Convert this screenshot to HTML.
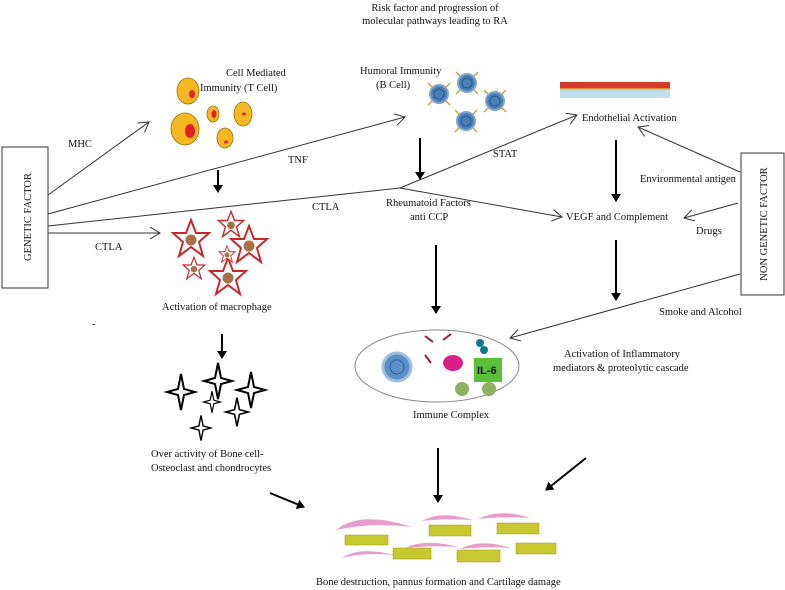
<!DOCTYPE html>
<html><head><meta charset="utf-8"><style>
body{margin:0;background:#fff}
svg{display:block}
text{font-family:"Liberation Serif",serif;font-size:10.5px;fill:#111}
</style></head><body>
<svg width="785" height="590" viewBox="0 0 785 590" xmlns="http://www.w3.org/2000/svg">
<defs>
<marker id="o" markerWidth="12" markerHeight="12" refX="10" refY="6" orient="auto" markerUnits="userSpaceOnUse"><path d="M0,0 L10,6 L0,12" fill="none" stroke="#333" stroke-width="1"/></marker>
<marker id="f" markerWidth="8" markerHeight="10" refX="7" refY="5" orient="auto" markerUnits="userSpaceOnUse"><path d="M0,0 L8,5 L0,10 Z" fill="#000"/></marker>
<g id="star"><path d="M0,-18 L5,-5 L18,-5 L8,4 L12,18 L0,9 L-12,18 L-8,4 L-18,-5 L-5,-5 Z" fill="#fff" stroke="#c8282c" stroke-width="2"/><circle cx="0" cy="2" r="5.5" fill="#a8704a"/></g>
<g id="bc"><circle r="9" fill="#4a7fb8" stroke="#7ea6cf" stroke-width="2"/><circle r="5" fill="none" stroke="#2c5a8c"/><path d="M7,-7 l4,-4 M-7,7 l-4,4 M7,7 l4,4 M-7,-7 l-4,-4" stroke="#d0a030" stroke-width="1.5"/></g>
<g id="bs"><path d="M0,-18 L3,-3 L14,0 L3,3 L0,18 L-3,3 L-14,0 L-3,-3 Z" fill="#fff" stroke="#000" stroke-width="2"/></g>
</defs>
<text x="435" y="11" text-anchor="middle">Risk factor and progression of</text>
<text x="435" y="24" text-anchor="middle">molecular pathways leading to RA</text>

<rect x="2" y="147" width="46" height="141" fill="#fff" stroke="#333"/>
<text transform="translate(31,217) rotate(-90)" text-anchor="middle">GENETIC FACTOR</text>
<rect x="741" y="153" width="43" height="142" fill="#fff" stroke="#333"/>
<text transform="translate(767,224) rotate(-90)" text-anchor="middle">NON GENETIC FACTOR</text>

<g stroke="#333" stroke-width="1" fill="none">
<line x1="48" y1="195" x2="149" y2="122" marker-end="url(#o)"/>
<line x1="48" y1="214" x2="405" y2="117" marker-end="url(#o)"/>
<polyline points="48,226 400,188"/>
<line x1="400" y1="188" x2="577" y2="115" marker-end="url(#o)"/>
<line x1="400" y1="188" x2="562" y2="217" marker-end="url(#o)"/>
<line x1="48" y1="233" x2="160" y2="233" marker-end="url(#o)"/>
<line x1="740" y1="172" x2="638" y2="127" marker-end="url(#o)"/>
<line x1="738" y1="203" x2="684" y2="218" marker-end="url(#o)"/>
<line x1="740" y1="274" x2="510" y2="338" marker-end="url(#o)"/>
</g>
<g stroke="#000" stroke-width="2" fill="none">
<line x1="218" y1="170" x2="218" y2="192" marker-end="url(#f)"/>
<line x1="420" y1="138" x2="420" y2="179" marker-end="url(#f)"/>
<line x1="616" y1="140" x2="616" y2="201" marker-end="url(#f)"/>
<line x1="436" y1="245" x2="436" y2="313" marker-end="url(#f)"/>
<line x1="616" y1="240" x2="616" y2="300" marker-end="url(#f)"/>
<line x1="222" y1="334" x2="222" y2="358" marker-end="url(#f)"/>
<line x1="438" y1="448" x2="438" y2="502" marker-end="url(#f)"/>
<line x1="270" y1="493" x2="304" y2="507" marker-end="url(#f)"/>
<line x1="586" y1="458" x2="546" y2="490" marker-end="url(#f)"/>
</g>

<text x="68" y="147">MHC</text>
<text x="288" y="163">TNF</text>
<text x="312" y="210">CTLA</text>
<text x="95" y="250">CTLA</text>
<text x="493" y="157">STAT</text>
<text x="226" y="76">Cell Mediated</text>
<text x="200" y="91">Immunity (T Cell)</text>
<text x="360" y="74">Humoral Immunity</text>
<text x="376" y="88">(B Cell)</text>
<text x="582" y="121">Endothelial Activation</text>
<text x="386" y="206">Rheumatoid Factors</text>
<text x="410" y="220">anti CCP</text>
<text x="566" y="220">VEGF and Complement</text>
<text x="640" y="182">Environmental antigen</text>
<text x="696" y="234">Drugs</text>
<text x="659" y="315">Smoke and Alcohol</text>
<text x="162" y="310">Activation of macrophage</text>
<text x="92" y="327">-</text>
<text x="564" y="357">Activation of Inflammatory</text>
<text x="553" y="371">mediators &amp; proteolytic cascade</text>
<text x="413" y="418">Immune Complex</text>
<text x="151" y="457">Over activity of Bone cell-</text>
<text x="151" y="471">Osteoclast and chondrocytes</text>
<text x="316" y="585">Bone destruction, pannus formation and Cartilage damage</text>

<!-- T cells -->
<g fill="#f5b820" stroke="#a07010" stroke-width="0.8">
<ellipse cx="188" cy="91" rx="11" ry="13"/><ellipse cx="185" cy="129" rx="14" ry="16"/>
<ellipse cx="213" cy="114" rx="6" ry="8"/><ellipse cx="243" cy="114" rx="9" ry="12"/><ellipse cx="225" cy="138" rx="8" ry="10"/>
</g>
<g fill="#e0202a"><ellipse cx="192" cy="94" rx="3" ry="4"/><ellipse cx="190" cy="131" rx="5" ry="7"/><ellipse cx="214" cy="114" rx="2.5" ry="4"/><ellipse cx="244" cy="114" rx="2" ry="1.5"/><ellipse cx="226" cy="142" rx="2" ry="1.5"/></g>
<!-- B cells -->
<use href="#bc" x="439" y="94"/><use href="#bc" x="467" y="83"/><use href="#bc" x="495" y="101"/><use href="#bc" x="466" y="121"/>
<!-- endothelium -->
<rect x="560" y="82" width="110" height="8" fill="#d23a2a"/>
<rect x="560" y="89" width="110" height="9" fill="#bfe0ea"/>
<line x1="560" y1="89" x2="670" y2="89" stroke="#e0b040" stroke-width="1.5"/>
<!-- macrophage stars -->
<use href="#star" x="191" y="238"/><use href="#star" x="231" y="224" transform="translate(231,224) scale(0.7) translate(-231,-224)"/><use href="#star" x="249" y="244"/>
<use href="#star" x="194" y="268" transform="translate(194,268) scale(0.6) translate(-194,-268)"/>
<use href="#star" x="228" y="276"/><use href="#star" x="227" y="254" transform="translate(227,254) scale(0.45) translate(-227,-254)"/>
<!-- bone stars -->
<use href="#bs" x="181" y="392"/><use href="#bs" x="218" y="381"/><use href="#bs" x="251" y="390"/>
<use href="#bs" x="212" y="402" transform="translate(212,402) scale(0.6) translate(-212,-402)"/>
<use href="#bs" x="237" y="412" transform="translate(237,412) scale(0.8) translate(-237,-412)"/>
<use href="#bs" x="201" y="428" transform="translate(201,428) scale(0.7) translate(-201,-428)"/>
<!-- immune complex -->
<ellipse cx="437" cy="366" rx="82" ry="36" fill="#fff" stroke="#888"/>
<g transform="translate(397,367)"><circle r="14" fill="#5a8fc8" stroke="#9cc0e0" stroke-width="3"/><circle r="7" fill="none" stroke="#34609a"/></g>
<ellipse cx="453" cy="363" rx="10" ry="8" fill="#d8208a"/>
<rect x="474" y="358" width="28" height="24" fill="#5cbf3a"/>
<text x="477" y="374" style="font-family:'Liberation Sans',sans-serif;font-weight:bold;font-size:11px">IL-6</text>
<circle cx="462" cy="389" r="7" fill="#8fb060"/><circle cx="489" cy="389" r="7" fill="#8fb060"/>
<circle cx="480" cy="343" r="4" fill="#0a7a8a"/><circle cx="484" cy="350" r="4" fill="#0a7a8a"/>
<path d="M425,336 l8,6 M443,340 l8,-6 M425,355 l6,8" stroke="#a01830" stroke-width="2"/>
<!-- bone destruction -->
<g fill="#e79ccc"><path d="M336,530 Q360,510 412,527 Q370,522 336,530Z"/><path d="M422,521 Q440,510 473,520 Q445,518 422,521Z"/><path d="M478,519 Q500,508 530,518 Q500,516 478,519Z"/><path d="M342,558 Q360,546 394,555 Q365,552 342,558Z"/><path d="M405,548 Q425,538 458,547 Q430,545 405,548Z"/><path d="M460,549 Q480,538 511,548 Q485,546 460,549Z"/></g>
<g fill="#c8c830" stroke="#9a9a20" stroke-width="0.5"><rect x="345" y="535" width="43" height="10"/><rect x="429" y="525" width="42" height="11"/><rect x="497" y="523" width="42" height="11"/><rect x="393" y="548" width="38" height="11"/><rect x="457" y="550" width="43" height="12"/><rect x="516" y="543" width="40" height="11"/></g>
</svg>
</body></html>
